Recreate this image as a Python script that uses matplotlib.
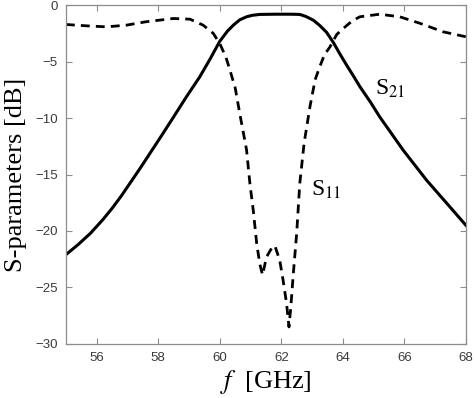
import numpy as np
import matplotlib
matplotlib.use('Agg')
import matplotlib.pyplot as plt

plt.rcParams.update({'font.family': 'serif', 'font.serif': ['Liberation Serif'],
                     'mathtext.fontset': 'stix'})

# S21 (solid)
f_s21 = [55.0, 55.4, 55.8, 56.2, 56.5, 56.8, 57.4, 58.05, 58.5, 58.92, 59.35, 59.7, 60.0,
         60.25, 60.45, 60.65, 60.87, 61.05, 61.3, 61.8, 62.3, 62.6, 62.8, 63.04, 63.25,
         63.47, 63.69, 63.9, 64.12, 64.35, 64.55, 64.9, 65.2, 65.96, 66.72, 67.48, 68.0]
s21 = [-22.1, -21.2, -20.2, -19.0, -18.0, -16.9, -14.5, -11.8, -9.9, -8.1, -6.35, -4.7, -3.2,
       -2.3, -1.75, -1.3, -1.03, -0.9, -0.82, -0.8, -0.8, -0.82, -1.0, -1.33, -1.8,
       -2.4, -3.3, -4.3, -5.3, -6.3, -7.2, -8.6, -9.9, -12.84, -15.5, -17.87, -19.5]

# S11 (dashed)
f_s11 = [55.0, 55.67, 56.32, 56.97, 57.6, 58.49, 59.03, 59.46, 59.79, 60.0, 60.2, 60.33,
         60.5, 60.65, 60.87, 60.98, 61.09, 61.2, 61.3, 61.39, 61.52, 61.68, 61.79, 61.95,
         62.06, 62.17, 62.25, 62.31, 62.39, 62.5, 62.6, 62.74, 62.93, 63.1, 63.25, 63.4,
         63.58, 63.8, 64.01, 64.3, 64.55, 65.2, 65.85, 66.5, 67.26, 68.0]
s11 = [-1.71, -1.83, -1.92, -1.77, -1.47, -1.18, -1.24, -1.77, -2.5, -3.4, -4.6, -5.75,
       -7.3, -9.6, -12.8, -15.8, -18.2, -21.1, -22.9, -23.9, -22.3, -21.55, -21.3, -22.6,
       -24.4, -26.4, -28.5, -26.7, -23.8, -20.2, -15.8, -12.25, -9.0, -6.6, -5.45, -4.4,
       -3.7, -2.6, -2.07, -1.4, -1.03, -0.8, -1.03, -1.6, -2.36, -2.8]

fig = plt.figure(figsize=(4.74, 3.98), dpi=100)
ax = fig.add_axes([0.139, 0.136, 0.844, 0.851])

ax.plot(f_s21, s21, color='black', lw=2.2)
ax.plot(f_s11, s11, color='black', lw=2.0, ls=(0, (3.2, 2.2)))

ax.set_xlim(55, 68)
ax.set_ylim(-30, 0)
ax.set_xticks([56, 58, 60, 62, 64, 66, 68])
ax.set_yticks([0, -5, -10, -15, -20, -25, -30])

for s in ax.spines.values():
    s.set_color('#8c8c8c')
    s.set_linewidth(0.9)
ax.tick_params(direction='in', top=True, right=True, length=4, width=0.8,
               color='#8c8c8c', labelsize=9.5, labelcolor='#3a3a3a', pad=6)
for lab in ax.get_xticklabels() + ax.get_yticklabels():
    lab.set_family('Liberation Sans')

ax.set_xlabel('$f$  [GHz]', fontsize=19, labelpad=3)
ax.set_ylabel('S-parameters [dB]', fontsize=19, labelpad=6)

ax.text(65.05, -7.4, r'S$_{21}$', fontsize=17, va='center', ha='left')
ax.text(62.95, -16.4, r'S$_{11}$', fontsize=17, va='center', ha='left')

fig.savefig('out.png', dpi=100)
plt.close(fig)
